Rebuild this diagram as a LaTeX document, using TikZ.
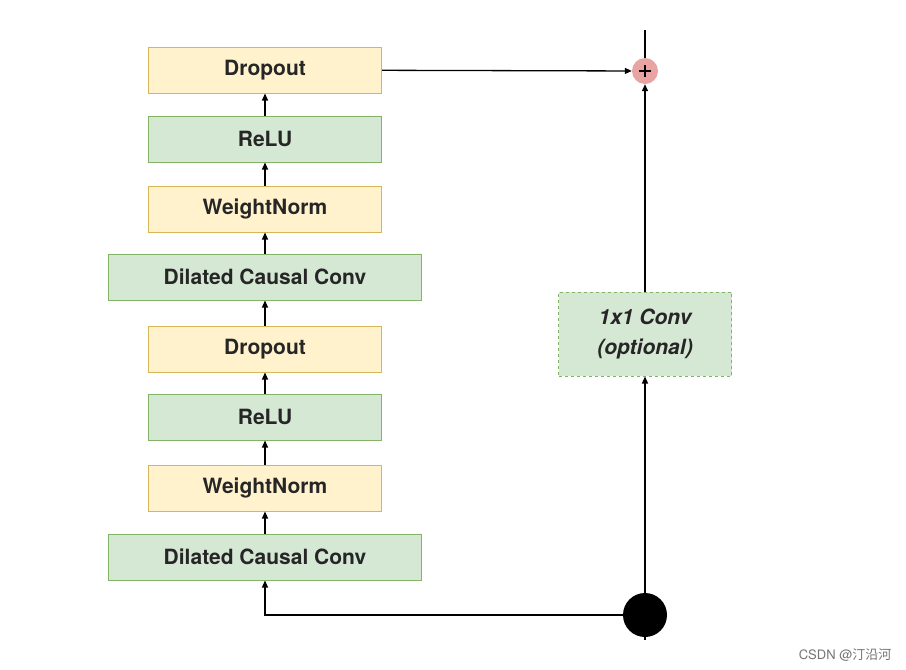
\documentclass[tikz,border=0pt]{standalone}
\usepackage{fontspec}
\setmainfont{TeX Gyre Heros}
\newfontfamily\cjk{Noto Sans CJK SC}
\usetikzlibrary{arrows.meta}
\definecolor{yfill}{HTML}{FFF2CC}\definecolor{ydraw}{HTML}{D6B656}
\definecolor{gfill}{HTML}{D5E8D4}\definecolor{gdraw}{HTML}{82B366}
\definecolor{pinkc}{HTML}{E8A3A3}
\begin{document}
\begin{tikzpicture}[x=1pt,y=-1pt,
  box/.style={draw, line width=1pt, minimum height=46pt, inner sep=0pt, font=\fontsize{21}{24}\selectfont\bfseries, text=black!85},
  yb/.style={box, fill=yfill, draw=ydraw, minimum width=233pt},
  gb/.style={box, fill=gfill, draw=gdraw, minimum width=233pt},
  wb/.style={box, fill=gfill, draw=gdraw, minimum width=313pt},
  ar/.style={-{Triangle[length=7pt,width=6pt]}, line width=1.3pt},
  ln/.style={line width=1.3pt}]
\useasboundingbox (0,0) rectangle (906,670);
\node[yb] (d1) at (265,70) {Dropout};
\node[gb] (r1) at (265,139) {ReLU};
\node[yb] (w1) at (265,209) {WeightNorm};
\node[wb] (c1) at (265,277) {Dilated Causal Conv};
\node[yb] (d2) at (265,349) {Dropout};
\node[gb] (r2) at (265,417) {ReLU};
\node[yb] (w2) at (265,488) {WeightNorm};
\node[wb] (c2) at (265,557) {Dilated Causal Conv};
\node[circle, fill=pinkc, minimum size=26pt, inner sep=0pt] (p) at (645,71) {};
\draw[line width=2pt] (639,71) -- (651,71) (645,65) -- (645,77);
\node[draw=gdraw, dashed, fill=gfill, line width=1pt, minimum width=173pt, minimum height=84pt, align=center, font=\fontsize{21}{30}\selectfont\bfseries\itshape, text=black!85] (cv) at (645,334) {1x1 Conv\\(optional)};
\node[circle, fill=black, minimum size=44pt, inner sep=0pt] (dot) at (645,615) {};
\coordinate (top) at (645,30);
\coordinate (bot) at (645,640);
\coordinate (turn) at (265,615);
\draw[ln] (top) -- (p.north);
\draw[ln] (dot.south) -- (bot);
\draw[ar] (c2) -- (w2); \draw[ar] (w2) -- (r2); \draw[ar] (r2) -- (d2);
\draw[ar] (d2) -- (c1); \draw[ar] (c1) -- (w1); \draw[ar] (w1) -- (r1);
\draw[ar] (r1) -- (d1);
\draw[ar] (d1) -- (p);
\draw[ar] (dot) -- (cv);
\draw[ar] (cv) -- (p);
\draw[ar] (dot) -- (turn) -- (c2);
\node[font=\fontsize{13}{15}\selectfont, text=black!55, anchor=east] (wm) at (895,655) {CSDN @{\cjk 汀沿河}};
\end{tikzpicture}
\end{document}
